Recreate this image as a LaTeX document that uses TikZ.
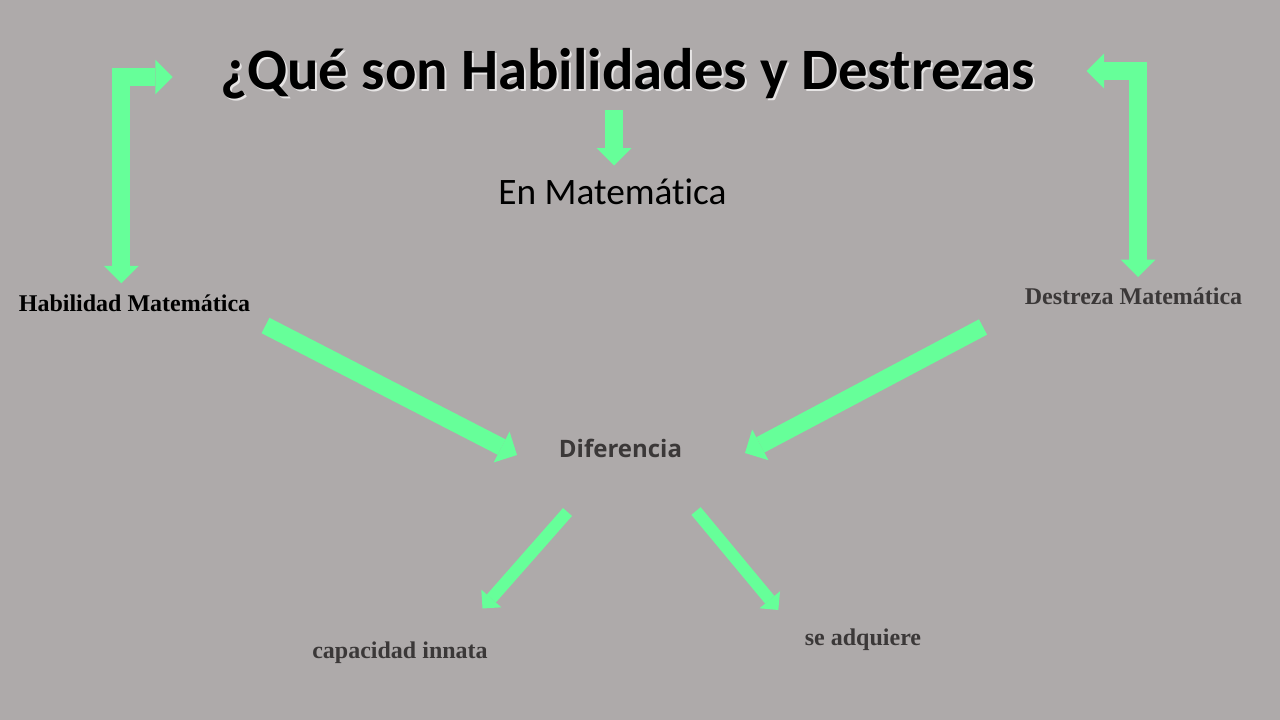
\documentclass[tikz,border=0pt]{standalone}
\usepackage{fontspec}
\usepackage{xcolor}
\setmainfont{Liberation Serif}
\newfontfamily\calibri[RawFeature={-liga;-clig;-dlig}]{Carlito}
\newfontfamily\opensans{Open Sans}
\usetikzlibrary{arrows.meta,positioning}
\definecolor{fondo}{HTML}{AEAAAA}
\definecolor{verde}{HTML}{66FF99}
\definecolor{gris}{HTML}{3B3838}
\tikzset{
	punta/.tip={Triangle[width=26pt,length=13pt,line width=0pt]},
	puntita/.tip={Triangle[width=20pt,length=10pt,line width=0pt]},
	flecha/.style={draw=verde,line width=13pt,-punta},
	flechita/.style={draw=verde,line width=9pt,-puntita},
	doble/.style={draw=verde,line width=13.5pt,line join=miter,punta-punta},
	etiqueta/.style={anchor=base,inner sep=0pt,font=\fontsize{18}{21}\selectfont\bfseries}
}

\begin{document}
\begin{tikzpicture}[x=0.75pt,y=-0.75pt]
\fill[fondo] (0,0) rectangle (1280,720);
\useasboundingbox (0,0) rectangle (1280,720);
\node[anchor=base,inner sep=0pt,text=white!70!fondo,font=\calibri\fontsize{44}{50}\selectfont\bfseries] (sombra) at (629.5,92) {¿Qué son Habilidades y Destrezas};
\node[anchor=base,inner sep=0pt,font=\calibri\fontsize{44}{50}\selectfont\bfseries] (titulo) at (627.5,90) {¿Qué son Habilidades y Destrezas};
\node[anchor=base,inner sep=0pt,font=\calibri\fontsize{28}{32}\selectfont] (enmat) at (612.5,205) {En Matemática};
\node[etiqueta] (hab) at (134.5,311) {Habilidad Matemática};
\node[etiqueta,text=gris] (des) at (1133.5,304) {Destreza Matemática};
\node[etiqueta,text=gris,font=\opensans\fontsize{18}{21}\selectfont\bfseries] (dif) at (620.5,457) {Diferencia};
\node[etiqueta,text=gris] (inn) at (400,658) {capacidad innata};
\node[etiqueta,text=gris] (adq) at (863,645) {se adquiere};
\coordinate (hab1) at (121.3,283.3);
\coordinate (hab2) at (172.7,77);
\coordinate (des1) at (1138,277);
\coordinate (des2) at (1086.7,71);
\coordinate (tit1) at (614,110);
\coordinate (tit2) at (614,165.5);
\coordinate (hd1) at (265.5,325.5);
\coordinate (hd2) at (517,455);
\coordinate (dd1) at (983,327);
\coordinate (dd2) at (745,453);
\coordinate (di1) at (567.5,512);
\coordinate (di2) at (482.5,608.5);
\coordinate (da1) at (696,511);
\coordinate (da2) at (778.3,610);
\draw[doble] (hab1) |- (hab2);
\draw[doble] (des1) |- (des2);
\draw[flecha] (tit1) -- (tit2);
\draw[flecha] (hd1) -- (hd2);
\draw[flecha] (dd1) -- (dd2);
\draw[flechita] (di1) -- (di2);
\draw[flechita] (da1) -- (da2);
\end{tikzpicture}
\end{document}
